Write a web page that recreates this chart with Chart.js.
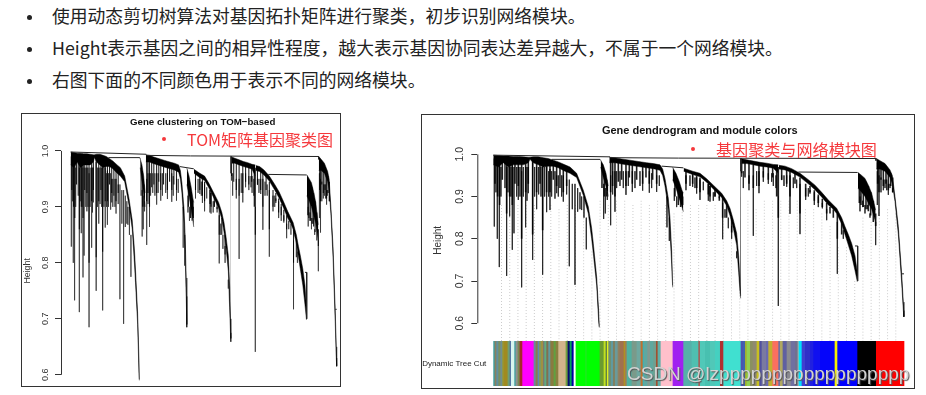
<!DOCTYPE html>
<html lang="zh">
<head>
<meta charset="utf-8">
<title>Gene clustering</title>
<script src="https://cdn.jsdelivr.net/npm/chart.js@4"></script>
<style>
  html, body { margin: 0; padding: 0; background: #fff; }
  body { position: relative; width: 926px; height: 395px; overflow: hidden; font-family: "Noto Sans CJK SC", "Noto Sans", sans-serif; }
  .line { position: absolute; left: 52px; font-size: 17.8px; line-height: 24px; color: #222; white-space: nowrap; }
  .dot { position: absolute; left: 27px; width: 5px; height: 5px; border-radius: 3px; background: #222; }
  .frame { position: absolute; border: 1.4px solid #333; box-sizing: border-box; }
  canvas { position: absolute; filter: blur(0.4px); }
  .red { position: absolute; color: #f5383c; white-space: nowrap; line-height: 20px; }
  .reddot { position: absolute; width: 4px; height: 4px; border-radius: 2px; background: #f5383c; }
  #mark { position: absolute; left: 627px; top: 361px; font: 19px/26px "Liberation Sans", sans-serif; color: #d4d4d4; text-shadow: 1px 1px 1px #555; white-space: nowrap; }
</style>
</head>
<body>
<div class="dot" style="top:15px"></div><div class="line" style="top:3px">使用动态剪切树算法对基因拓扑矩阵进行聚类，初步识别网络模块。</div>
<div class="dot" style="top:47px"></div><div class="line" style="top:35px">Height表示基因之间的相异性程度，越大表示基因协同表达差异越大，不属于一个网络模块。</div>
<div class="dot" style="top:79px"></div><div class="line" style="top:67px">右图下面的不同颜色用于表示不同的网络模块。</div>

<div class="frame" style="left:21px;top:113px;width:320px;height:274px"></div>
<canvas id="treeLeft" width="317" height="271" style="left:22px;top:114.5px"></canvas>

<div class="frame" style="left:421px;top:114px;width:494px;height:275px"></div>
<canvas id="treeRight" width="491" height="226" style="left:422px;top:115px"></canvas>
<canvas id="stripRight" width="491" height="45" style="left:422px;top:341px"></canvas>

<div class="reddot" style="left:162px;top:137px"></div>
<div class="red" style="left:187px;top:129px;font-size:16px">TOM矩阵基因聚类图</div>
<div class="reddot" style="left:691px;top:147px"></div>
<div class="red" style="left:716px;top:139px;font-size:16.1px">基因聚类与网络模块图</div>
<div id="mark">CSDN @lzpppppppppppppppppp</div>

<script>
// tick labels
const heightTicks = [0.6, 0.7, 0.8, 0.9, 1.0];

// solid band along each branch: gene order, upper and lower height (null splits branches)
const bandX = [0, 15, 30, 45, 60, 75, 90, 105, 110, 120, 135, 150, 165, 180, 195, 215, 230, 250, 270, 285, 295, 300, 310, 316, 318, null,
  322, 330, 338, 345, null,
  348, 365, 385, 410, 435, 460, 480, 500, 508, 515, 525, 530, 535, 538, null,
  538, 548, 558, 566, 570, null,
  571, 598, 620, 640, 660, 685, 700, 710, 720, 730, 736, 740, 742, null,
  741, 760, 780, 800, 820, 840, 855, null,
  857, 875, 895, 920, 945, 965, 985, 1005, 1020, 1030, 1045, 1055, 1065, 1075, 1085, 1092, null,
  1094, 1105, 1115, 1125, 1135, 1147, null,
  1149, 1160, 1175, 1190, 1197, 1205, 1215, 1225, 1230, 1232];
const bandTop = [.998, .997, .996, .996, .995, .995, .994, .993, .993, .994, .994, .992, .990, .986, .982, .975, .970, .955, .915, .876, .825, .789, .71, .63, .592, null,
  .986, .975, .955, .925, null,
  .993, .992, .989, .986, .983, .980, .978, .975, .965, .943, .896, .85, .773, .69, null,
  .969, .955, .935, .915, .908, null,
  .967, .96, .955, .942, .927, .908, .89, .872, .845, .813, .76, .70, .665, null,
  .99, .987, .984, .981, .979, .976, .975, null,
  .974, .972, .966, .955, .94, .927, .91, .892, .88, .872, .85, .829, .81, .789, .76, .72, null,
  .957, .95, .943, .927, .908, .868, null,
  .99, .985, .978, .963, .95, .90, .829, .718, .65, .616];
const bandBottom = [.975, .97, .98, .97, .975, .975, .975, .98, .988, .98, .975, .97, .972, .972, .968, .96, .955, .945, .903, .86, .80, .765, .69, .605, .59, null,
  .97, .945, .925, .90, null,
  .98, .98, .977, .974, .971, .968, .966, .962, .95, .925, .87, .815, .74, .685, null,
  .94, .92, .895, .875, .864, null,
  .96, .952, .947, .934, .918, .898, .878, .855, .825, .785, .72, .675, .659, null,
  .978, .978, .975, .972, .97, .967, .955, null,
  .965, .963, .957, .946, .93, .916, .899, .88, .87, .86, .835, .81, .785, .76, .725, .698, null,
  .92, .91, .90, .885, .87, .84, null,
  .965, .965, .96, .945, .93, .888, .81, .695, .63, .615];

// thick dark wedges hanging from the band
const wedgeX = [5, 13, 19, 27, 40, 49, 57, 65, 75, 85, 97, 105, 118, 130, 140, 148, 160, 170, 180, 190, 200, 210, 220,
  326, 333, 340,
  352, 358, 365, 375, 385, 398, 408, 417, 430, 448, 458, 468, 478, 490,
  545, 555, 562, 568,
  578, 598, 610, 620, 645, 650, 665, 678, 688, 700, 715,
  745, 755, 767, 780, 797, 810, 825, 838, 850, 855,
  865, 880, 890, 905, 920, 937, 950, 963, 975, 987, 1000, 1010, 1020, 1032, 1045,
  1098, 1103, 1110, 1118, 1125, 1132, 1140, 1147,
  1153, 1157, 1163, 1170, 1178, 1185, 1192, 1198];
const wedgeTop = [.99, .99, .99, .99, .99, .99, .99, .99, .99, .99, .99, .99, .99, .99, .985, .985, .985, .98, .98, .975, .975, .97, .97,
  .97, .96, .94,
  .985, .985, .985, .985, .985, .98, .98, .98, .975, .975, .975, .97, .97, .97,
  .94, .93, .91, .90,
  .96, .955, .95, .945, .93, .925, .92, .91, .90, .88, .85,
  .98, .98, .98, .98, .975, .975, .97, .97, .97, .97,
  .965, .965, .96, .955, .945, .93, .925, .915, .905, .895, .885, .875, .87, .86, .84,
  .95, .945, .94, .935, .925, .91, .89, .86,
  .98, .98, .975, .975, .97, .965, .955, .945];
const wedgeBottom = [.93, .90, .88, .94, .86, .90, .88, .93, .925, .80, .91, .93, .81, .91, .93, .82, .91, .91, .94, .925, .92, .91, .925,
  .92, .90, .90,
  .91, .925, .90, .935, .94, .925, .945, .93, .94, .93, .945, .93, .94, .93,
  .90, .88, .875, .88,
  .93, .93, .92, .91, .905, .90, .90, .89, .85, .85, .815,
  .955, .945, .93, .92, .925, .945, .94, .945, .90, .85,
  .94, .93, .90, .93, .86, .90, .91, .89, .885, .875, .86, .86, .85, .80, .81,
  .885, .88, .875, .87, .865, .855, .84, .83,
  .93, .91, .94, .925, .93, .915, .925, .91];

// thin grey leaves reaching below the wedges
const hairX = [3, 8, 12, 18, 23, 35, 40, 44, 49, 53, 57, 62, 70, 75, 80, 85, 90, 97, 101, 105, 118, 124, 130, 136, 143, 148, 154, 160, 166, 170, 175, 185, 190, 195, 205, 210, 220, 228, 237, 245, 253, 260, 265, 272, 279,
  331, 336, 342,
  352, 358, 365, 370, 380, 390, 398, 405, 417, 425, 440, 448, 468, 475, 490, 498, 521, 528,
  543, 550,
  578, 590, 598, 605, 610, 620, 630, 645, 650, 660, 665, 678, 688, 695, 705, 715, 730,
  745, 750, 767, 780, 790, 797, 810, 825, 835, 840, 848, 855,
  865, 872, 880, 890, 900, 910, 920, 937, 945, 950, 963, 975, 987, 1000, 1032, 1050,
  1100, 1108, 1115, 1122, 1130, 1147,
  1152, 1157, 1163, 1170, 1175, 1180, 1185, 1190, 1198];
const hairTop = [.99, .98, .98, .98, .97, .98, .97, .97, .98, .97, .98, .97, .97, .97, .97, .96, .97, .97, .97, .97, .98, .97, .97, .97, .97, .97, .97, .97, .96, .965, .96, .96, .95, .95, .95, .95, .94, .94, .93, .93, .92, .91, .90, .90, .85,
  .93, .92, .91,
  .95, .96, .96, .96, .96, .96, .96, .96, .96, .96, .96, .96, .96, .955, .95, .95, .90, .85,
  .92, .90,
  .95, .95, .95, .945, .945, .94, .935, .93, .925, .91, .91, .90, .885, .87, .85, .83, .77,
  .96, .96, .95, .95, .96, .96, .96, .955, .955, .955, .95, .90,
  .95, .95, .95, .95, .945, .94, .93, .92, .92, .915, .91, .90, .885, .87, .84, .82,
  .90, .89, .88, .88, .86, .84,
  .96, .95, .945, .94, .94, .94, .93, .93, .92];
const hairBottom = [.829, .91, .80, .733, .90, .92, .712, .91, .853, .90, .774, .813, .90, .892, .90, .685, .90, .827, .89, .908, .75, .90, .87, .905, .90, .715, .90, .863, .90, .868, .90, .895, .908, .90, .90, .888, .905, .735, .87, .691, .864, .87, .868, .85, .775,
  .847, .86, .892,
  .832, .905, .864, .92, .925, .92, .904, .925, .911, .92, .925, .914, .909, .92, .911, .925, .827, .795,
  .89, .875,
  .915, .925, .923, .92, .907, .892, .915, .89, .888, .89, .90, .896, .799, .85, .825, .80, .754,
  .947, .92, .915, .807, .925, .908, .935, .93, .935, .925, .92, .641,
  .939, .925, .923, .859, .92, .92, .811, .892, .90, .907, .88, .875, .872, .844, .717, .80,
  .865, .875, .86, .87, .85, .785,
  .88, .854, .91, .915, .92, .915, .904, .92, .91];

// joins between branches: one polyline per run, null splits them
const joinX = [0, 350, null, 175, 320, 322, null, 350, 555, 1148, 1148, null, 505, 570, null, 915, 1093, null, 1085, 1093, 1093, null, 743, 743, null, 1225, 1232];
const joinY = [.998, .994, null, .988, .988, .986, null, .992, .991, .990, .985, null, .972, .968, null, .958, .957, null, .783, .783, .70, null, .990, .96, null, .717, .717];

// dotted guide lines of the right panel: gene order and height where they start
const guideX = [24.6, 49.3, 73.9, 98.6, 123.2, 147.8, 172.5, 197.1, 221.8, 246.4, 271, 295.7, 320.3, 345, 369.6, 394.2, 418.9, 443.5, 468.2, 492.8, 517.4, 542.1, 566.7, 591.4, 616, 640.6, 665.3, 689.9, 714.6, 739.2, 763.8, 788.5, 813.1, 837.8, 862.4, 887, 911.7, 936.3, 961, 985.6, 1010.2, 1034.9, 1059.5, 1084.2, 1108.8, 1133.4, 1158.1, 1182.7, 1207.4];
const guideTop = [.88, .88, .88, .88, .88, .88, .88, .87, .88, .88, .87, .77, .89, .88, .89, .89, .88, .89, .88, .89, .88, .86, .87, .88, .88, .88, .88, .85, .82, .68, .89, .87, .89, .89, .89, .89, .89, .87, .87, .86, .83, .78, .78, .70, .85, .84, .87, .87, .86];

// module colour bar: width in genes and module colour
const moduleWidths = [3, 5, 6, 6, 6, 4, 12, 6, 4, 10, 4, 6, 6, 8, 34, 6, 6, 4, 6, 6, 4, 6, 6, 6, 10, 6, 8, 22, 6, 6, 6, 6, 6, 30, 2, 40, 12, 6, 4, 4, 8, 6, 6, 8, 6, 12,
  4, 5, 15, 15, 12, 6, 4, 10, 8, 10, 8, 5, 9, 36, 32, 25, 20, 5, 15, 15, 15, 15, 10, 52, 6, 7, 5, 10, 8,
  12, 8, 7, 13, 7, 12, 18, 5, 8, 12, 12, 13, 8, 3, 9, 10, 15, 10, 20, 44, 8, 60, 56, 85];
const moduleColors = ['#3aa0a0', '#8a8060', '#5f90a0', '#7a9060', '#6f8f8f', '#999930', '#a08a20', '#6fa070', '#5070a0', '#d8f5ee', '#40a0a0', '#909090', '#7a8a50', '#a52a2a', '#ff00ff', '#6a8a9a', '#8a7a50', '#5f86b0', '#7a9a60', '#a09040', '#7a7a70', '#5faa80', '#807050', '#5f9aa0', '#8a7a40', '#60a040', '#8a8040', '#d2b48c', '#70a040', '#0a0a70', '#00a060', '#0000a0', '#ffffff', '#00ff00', '#40d040', '#00ff00', '#6a9a30', '#c0e020', '#5f7f40', '#e0f020', '#6f8f70', '#5f9aa0', '#808060', '#6a9a9a', '#908060', '#a07050',
  '#b09020', '#a08050', '#50b0a0', '#7a9a8a', '#6fa8a0', '#c07030', '#40b0b0', '#60a8a0', '#809a90', '#5fa89f', '#70a090', '#a05030', '#5fb0a8', '#ffc0cb', '#a020f0', '#55b0a8', '#4fbfb0', '#a0605a', '#50c8b8', '#48c0b0', '#50c8b8', '#45d0c0', '#b03030', '#40e0d0', '#5050b0', '#4060b0', '#a0b030', '#90d050', '#8a9060',
  '#908a70', '#c8c020', '#5050a0', '#7a7aa0', '#6a6ab0', '#c0b030', '#fa7060', '#7070a0', '#b0a860', '#6060a0', '#8a8a90', '#7070a0', '#707090', '#b0b0a0', '#00e0ff', '#4040d0', '#3030c8', '#2020e0', '#1010f0', '#0505fa', '#f5f000', '#0000ff', '#000000', '#ff0000'];

const FONT = '"Liberation Sans", Arial, sans-serif';
const GUIDE_FLOOR = 0.558;

const zip = (xs, ys) => xs.map((x, i) => ({ x: x, y: x === null ? null : ys[i] }));

// vertical runs separated by gaps so one dataset can hold many lines
function verticals(xs, tops, bottoms) {
  const pts = [];
  xs.forEach((x, i) => {
    pts.push({ x: x, y: tops[i] }, { x: x, y: bottoms[i] }, { x: x, y: null });
  });
  return pts;
}

// R draws the axis line only between first and last tick
const axisLine = {
  id: 'axisLine',
  afterDraw(chart) {
    const s = chart.scales.y;
    const ctx = chart.ctx;
    ctx.save();
    ctx.strokeStyle = '#333';
    ctx.lineWidth = 1;
    ctx.beginPath();
    ctx.moveTo(s.right + 0.5, s.getPixelForValue(1.0));
    ctx.lineTo(s.right + 0.5, s.getPixelForValue(0.6));
    ctx.stroke();
    ctx.restore();
  }
};

function drawTree(id, o) {
  const sets = [
    { data: zip(joinX, joinY), borderColor: '#222', borderWidth: o.join, pointRadius: 0, spanGaps: false },
    { data: zip(bandX, bandTop), borderColor: '#000', borderWidth: 0.5, pointRadius: 0, spanGaps: false, fill: '+1', backgroundColor: '#000' },
    { data: zip(bandX, bandBottom), borderColor: '#111', borderWidth: 0.5, pointRadius: 0, spanGaps: false },
    { data: verticals(wedgeX, wedgeTop, wedgeBottom), borderColor: 'rgba(0,0,0,.88)', borderWidth: o.wedge, pointRadius: 0, spanGaps: false },
    { data: verticals(hairX, hairTop, hairBottom), borderColor: 'rgba(30,30,30,.7)', borderWidth: o.hair, pointRadius: 0, spanGaps: false }
  ];
  if (o.guides) {
    sets.push({
      data: verticals(guideX, guideTop, guideTop.map(() => GUIDE_FLOOR)),
      borderColor: '#ccc', borderWidth: 1, borderDash: [1, 2], pointRadius: 0, spanGaps: false
    });
  }
  new Chart(document.getElementById(id).getContext('2d'), {
    type: 'line',
    data: { datasets: sets },
    plugins: [axisLine],
    options: {
      responsive: false,
      animation: false,
      layout: { padding: 0 },
      elements: { line: { tension: 0 } },
      plugins: {
        legend: { display: false },
        tooltip: { enabled: false },
        title: {
          display: true, text: o.title, fullSize: false, color: '#111',
          font: { family: FONT, size: o.titleSize, weight: 'bold', lineHeight: 1.2 },
          padding: o.titlePad
        }
      },
      scales: {
        x: { type: 'linear', display: false, min: o.xMin, max: o.xMax },
        y: {
          min: o.yMin, max: o.yMax,
          afterBuildTicks: s => { s.ticks = heightTicks.map(v => ({ value: v })); },
          afterFit: s => { s.width = o.axisWidth; s.paddingTop = 0; s.paddingBottom = 0; s.paddingLeft = 0; s.paddingRight = 0; },
          grid: { drawOnChartArea: false, tickLength: 6, tickColor: '#333', tickWidth: 1 },
          border: { display: false },
          ticks: {
            minRotation: 90, maxRotation: 90, crossAlign: 'center', padding: o.tickPad, color: '#333',
            font: { family: FONT, size: o.tickSize },
            callback: v => v.toFixed(1)
          },
          title: {
            display: true, text: o.yLabel, color: '#333',
            font: { family: FONT, size: o.labelSize },
            padding: o.labelPad
          }
        }
      }
    }
  });
}

// leading spaces nudge the titles right, R centres them on the figure and not the plot
drawTree('treeLeft', {
  title: '\u00a0\u00a0Gene clustering on TOM\u2212based', titleSize: 9.7, titlePad: { top: 1.2, bottom: 1 },
  // trailing spaces push the centred label down for the same reason
  yLabel: 'Height' + '\u00a0'.repeat(11),
  xMin: -44.9, xMax: 1242.6, yMin: 0.58, yMax: 1.0394, axisWidth: 39,
  tickSize: 9, tickPad: 3, labelSize: 8.8, labelPad: { top: 0, bottom: 0 },
  join: 1, wedge: 1.1, hair: 0.7, guides: false
});

drawTree('treeRight', {
  title: '\u00a0\u00a0\u00a0Gene dendrogram and module colors', titleSize: 11, titlePad: { top: 9.4, bottom: 2 },
  yLabel: 'Height',
  xMin: -48, xMax: 1259, yMin: GUIDE_FLOOR, yMax: 1.0348, axisWidth: 55.3,
  tickSize: 10.5, tickPad: 4, labelSize: 10, labelPad: { top: 10.5, bottom: 0 },
  join: 1, wedge: 1.6, hair: 1, guides: true
});

new Chart(document.getElementById('stripRight').getContext('2d'), {
  type: 'bar',
  data: {
    labels: ['Dynamic Tree Cut'],
    datasets: moduleWidths.map((w, i) => ({
      data: [w], backgroundColor: moduleColors[i], borderWidth: 0, barPercentage: 1, categoryPercentage: 1
    }))
  },
  options: {
    responsive: false,
    animation: false,
    indexAxis: 'y',
    layout: { padding: 0 },
    plugins: { legend: { display: false }, tooltip: { enabled: false } },
    scales: {
      x: { stacked: true, display: false, min: 0, max: 1259 },
      y: {
        stacked: true,
        afterFit: s => { s.width = 71.3; s.paddingTop = 0; s.paddingBottom = 0; },
        grid: { display: false, drawTicks: false },
        border: { display: false },
        ticks: { color: '#222', padding: 7, font: { family: FONT, size: 8 } }
      }
    }
  }
});
</script>
</body>
</html>
